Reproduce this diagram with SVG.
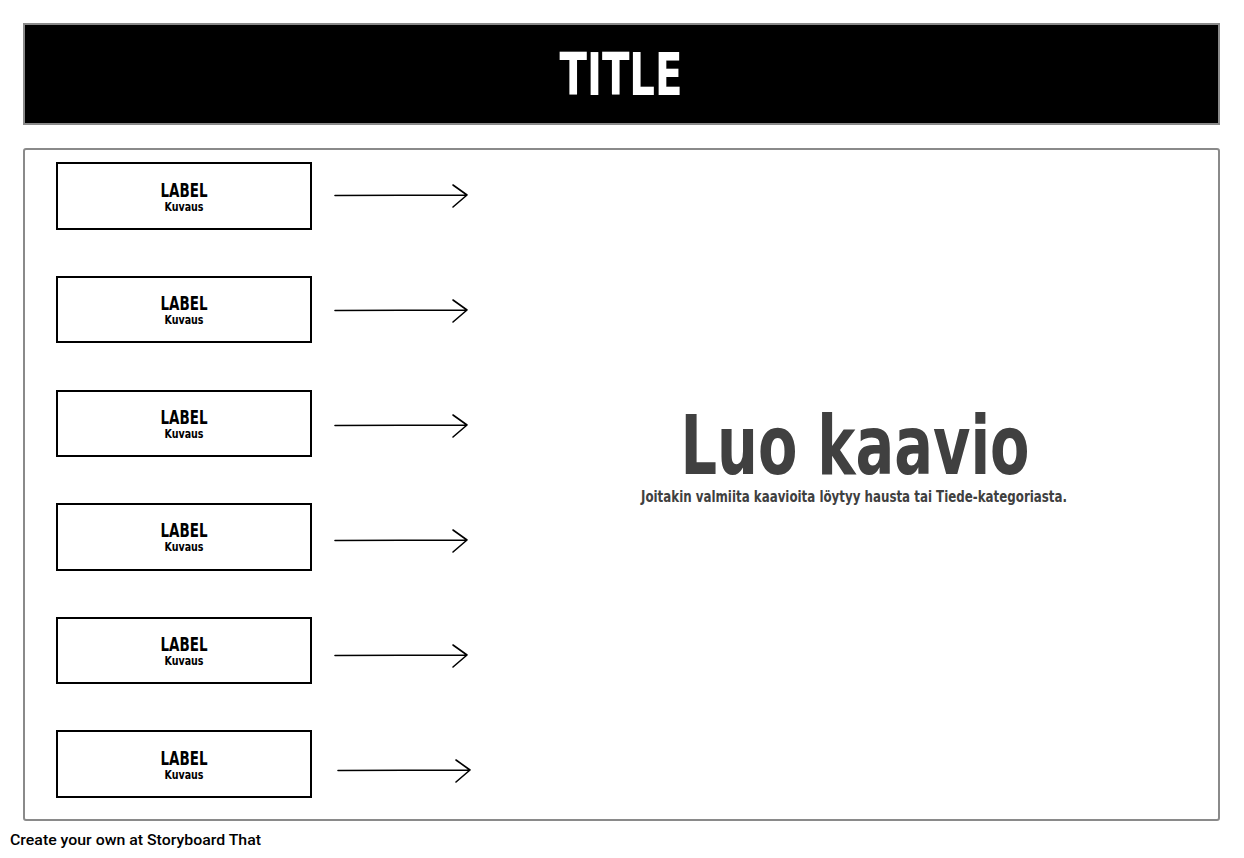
<svg xmlns="http://www.w3.org/2000/svg" width="1244" height="858" viewBox="0 0 1244 858">
<style>
.cond{font-family:"DejaVu Sans","Liberation Sans",sans-serif;font-weight:bold;font-stretch:condensed}
.box{fill:#fff;stroke:#000;stroke-width:2}
.lbl{font-size:19px;fill:#000;text-anchor:middle}
.sub{font-size:12.5px;fill:#000;text-anchor:middle}
.arr{fill:none;stroke:#000;stroke-width:1.6;stroke-linecap:round;stroke-linejoin:round}
</style>
<rect width="1244" height="858" fill="#fff"/>
<g id="title">
<rect x="24" y="24" width="1195" height="100" fill="#000" stroke="#8a8a8a" stroke-width="2"/>
<text x="621" y="95" class="cond" font-size="58" fill="#fff" text-anchor="middle" textLength="123" lengthAdjust="spacingAndGlyphs">TITLE</text>
</g>
<g id="panel">
<rect x="24" y="149" width="1195" height="671" rx="2" fill="#fff" stroke="#8a8a8a" stroke-width="2"/>
</g>
<g id="node1"><rect class="box" x="57" y="163" width="254" height="66"/><text class="cond lbl" x="184" y="197" textLength="47" lengthAdjust="spacingAndGlyphs">LABEL</text><text class="cond sub" x="184" y="211" textLength="39" lengthAdjust="spacingAndGlyphs">Kuvaus</text></g>
<g id="node2"><rect class="box" x="57" y="277" width="254" height="65"/><text class="cond lbl" x="184" y="310" textLength="47" lengthAdjust="spacingAndGlyphs">LABEL</text><text class="cond sub" x="184" y="324" textLength="39" lengthAdjust="spacingAndGlyphs">Kuvaus</text></g>
<g id="node3"><rect class="box" x="57" y="391" width="254" height="65"/><text class="cond lbl" x="184" y="424" textLength="47" lengthAdjust="spacingAndGlyphs">LABEL</text><text class="cond sub" x="184" y="438" textLength="39" lengthAdjust="spacingAndGlyphs">Kuvaus</text></g>
<g id="node4"><rect class="box" x="57" y="504" width="254" height="66"/><text class="cond lbl" x="184" y="537" textLength="47" lengthAdjust="spacingAndGlyphs">LABEL</text><text class="cond sub" x="184" y="551" textLength="39" lengthAdjust="spacingAndGlyphs">Kuvaus</text></g>
<g id="node5"><rect class="box" x="57" y="618" width="254" height="65"/><text class="cond lbl" x="184" y="651" textLength="47" lengthAdjust="spacingAndGlyphs">LABEL</text><text class="cond sub" x="184" y="665" textLength="39" lengthAdjust="spacingAndGlyphs">Kuvaus</text></g>
<g id="node6"><rect class="box" x="57" y="731" width="254" height="66"/><text class="cond lbl" x="184" y="765" textLength="47" lengthAdjust="spacingAndGlyphs">LABEL</text><text class="cond sub" x="184" y="779" textLength="39" lengthAdjust="spacingAndGlyphs">Kuvaus</text></g>
<g id="connectors">
<path class="arr" d="M335 195.5 L467 195 M453 185 L467 195 L453 207"/>
<path class="arr" d="M335 310.5 L467 310 M453 300 L467 310 L453 322"/>
<path class="arr" d="M335 425.5 L467 425 M453 415 L467 425 L453 437"/>
<path class="arr" d="M335 540.5 L467 540 M453 530 L467 540 L453 552"/>
<path class="arr" d="M335 655.5 L467 655 M453 645 L467 655 L453 667"/>
<path class="arr" d="M338 770.5 L470 770 M456 760 L470 770 L456 782"/>
</g>
<g id="placeholder">
<text x="855" y="474" class="cond" font-size="82" fill="#404040" text-anchor="middle" textLength="349" lengthAdjust="spacingAndGlyphs">Luo kaavio</text>
<text x="854" y="502" class="cond" font-size="15" fill="#404040" text-anchor="middle" textLength="426" lengthAdjust="spacingAndGlyphs">Joitakin valmiita kaavioita löytyy hausta tai Tiede-kategoriasta.</text>
</g>
<text x="10" y="845" font-family="Roboto,'Liberation Sans',sans-serif" font-weight="500" font-size="15" fill="#000" textLength="251" lengthAdjust="spacingAndGlyphs">Create your own at Storyboard That</text>
</svg>
